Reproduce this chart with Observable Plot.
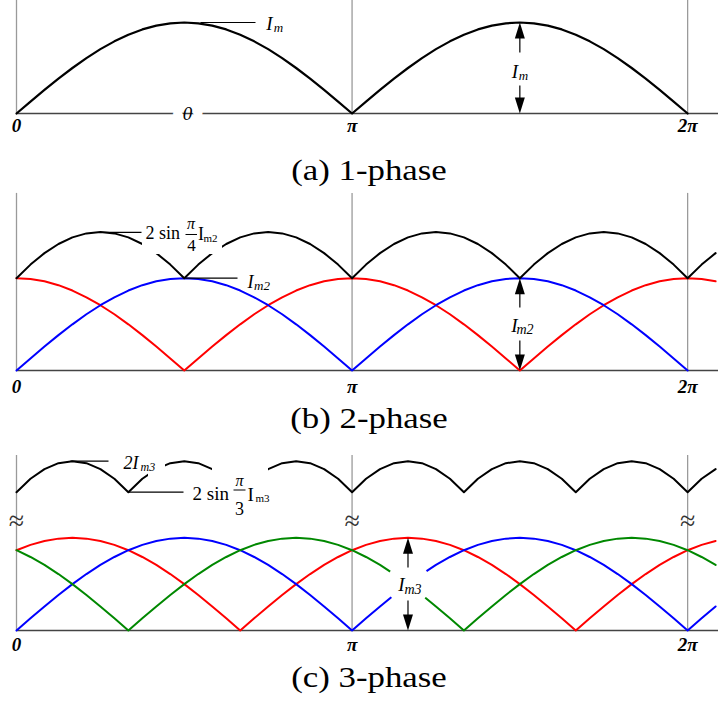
<!DOCTYPE html>
<html><head><meta charset="utf-8">
<script src="https://cdn.jsdelivr.net/npm/d3@7"></script>
<script src="https://cdn.jsdelivr.net/npm/@observablehq/plot@0.6"></script>
<style>
body{margin:0;background:#fff;}
#root{position:relative;width:728px;height:709px;overflow:hidden;font-family:"Liberation Serif","Times New Roman",Times,serif;}
.panel{position:absolute;left:0;}
.cap{position:absolute;left:0;width:728px;padding-left:10px;box-sizing:border-box;text-align:center;font-size:30px;line-height:30px;color:#000;white-space:nowrap;font-family:"Liberation Serif","Times New Roman",Times,serif;transform:scaleX(1.16);transform-origin:369px 50%;}
</style></head><body><div id="root"></div>
<script>
// ---------- data (x in units of π, y in units of the phase peak current) ----------
const ticksPi = [0, 1, 2];
const tickLabels = ["0", "π", "2π"];
const stepPi = 1 / 24;                 // sampling step
// one rectified half-period |sin|, sampled every π/24
const halfSine = [0, 0.131, 0.259, 0.383, 0.5, 0.609, 0.707, 0.793, 0.866, 0.924, 0.966, 0.991,
                  1, 0.991, 0.966, 0.924, 0.866, 0.793, 0.707, 0.609, 0.5, 0.383, 0.259, 0.131];
// 2-phase envelope (one period π/2), in Im2
const env2 = [1, 1.147, 1.271, 1.37, 1.442, 1.485, 1.5, 1.485, 1.442, 1.37, 1.271, 1.147];
// 3-phase line envelope (one period π/3), in Im3 (2 sin(π/3) .. 2)
const env3 = [1.732, 1.848, 1.932, 1.983, 2, 1.983, 1.932, 1.848];
// phase offsets (in samples)
const phases2 = {red: 12, blue: 0};
const phases3 = {red: 8, blue: 0, green: 16};
const captions = ["(a) 1-phase", "(b) 2-phase", "(c) 3-phase"];

const xMax = 2.092;
const FONT = "'Liberation Serif', 'Times New Roman', Times, serif";
const wave = (profile, offset, n) =>
  d3.range(n + 1).map(i => ({x: i * stepPi, y: profile[(i + offset) % profile.length]}));

const upTri = {draw(c){ c.moveTo(0,0); c.lineTo(-5,16); c.lineTo(5,16); c.closePath(); }};
const downTri = {draw(c){ c.moveTo(0,0); c.lineTo(-5,-16); c.lineTo(5,-16); c.closePath(); }};

function helpers(base, unit){
  const X = px => (px - 16) / 335.56;
  const Y = py => (base - py) / unit;
  return {
    X, Y,
    txt: (px, py, s, o = {}) => Plot.text([s], {x: X(px), y: Y(py), text: d => d, fontFamily: FONT, fill: "#000", ...o}),
    seg: (px1, py1, px2, py2, w = 1.2) => Plot.link([0], {x1: X(px1), y1: Y(py1), x2: X(px2), y2: Y(py2), stroke: "#000", strokeWidth: w}),
    box: (px1, py1, px2, py2) => Plot.rect([0], {x1: X(px1), x2: X(px2), y1: Y(py1), y2: Y(py2), fill: "white"}),
    up: (x, py) => Plot.dot([0], {x, y: Y(py), symbol: upTri, fill: "#000", stroke: "none", r: 5}),
    down: (x, py) => Plot.dot([0], {x, y: Y(py), symbol: downTri, fill: "#000", stroke: "none", r: 5}),
    vline: (x, py1, py2) => Plot.link([0], {x1: x, x2: x, y1: Y(py1), y2: Y(py2), stroke: "#000", strokeWidth: 1.2})
  };
}

function common(ruleTop, tickDy){
  return [
    Plot.ruleX(ticksPi, {x: d => d, y1: 0, y2: ruleTop, stroke: "#9a9a9a", strokeWidth: 1.3}),
    Plot.ruleY([0], {x1: 0, x2: xMax, stroke: "#444", strokeWidth: 1.6}),
    Plot.text(ticksPi, {x: d => d, y: 0, text: (d, i) => tickLabels[i], dy: tickDy, fontFamily: FONT,
      fontWeight: "bold", fontStyle: "italic", fontSize: 19, fill: "#000"})
  ];
}

function mount(svg, top){
  svg.classList.add("panel");
  svg.style.top = top + "px";
  document.getElementById("root").appendChild(svg);
}
function caption(text, top){
  const d = document.createElement("div");
  d.className = "cap"; d.style.top = top + "px"; d.textContent = text;
  document.getElementById("root").appendChild(d);
}
const base = {width: 728, marginLeft: 16, marginRight: 10,
  x: {domain: [0, xMax], axis: null},
  style: {background: "transparent", overflow: "visible", fontFamily: FONT}};

// ---------- (a) 1-phase ----------
{
  const h = helpers(113, 91);
  const svg = Plot.plot({...base, height: 150, marginTop: 22, marginBottom: 37,
    y: {domain: [0, 1], axis: null},
    marks: [
      ...common(1.242, 12),
      Plot.line(wave(halfSine, 0, 48), {x: "x", y: "y", stroke: "#000", strokeWidth: 2.2}),
      Plot.text(["0"], {x: h.X(187), y: 0, text: d => d, fontFamily: FONT, fontStyle: "italic", fontSize: 19,
        fill: "#000", stroke: "white", strokeWidth: 21, paintOrder: "stroke"}),
      h.seg(200, 22, 255, 22),
      h.txt(269, 23.5, "I", {fontStyle: "italic", fontSize: 19}),
      h.txt(278, 27.5, "m", {fontStyle: "italic", fontSize: 13}),
      h.vline(1.5, 30, 52), h.up(1.5, 22),
      h.txt(514.5, 71, "I", {fontStyle: "italic", fontSize: 19}),
      h.txt(523, 75, "m", {fontStyle: "italic", fontSize: 13}),
      h.vline(1.5, 85, 105), h.down(1.5, 113)
    ]});
  mount(svg, 0);
  caption(captions[0], 155);
}

// ---------- (b) 2-phase ----------
{
  const h = helpers(370, 92.33);
  const svg = Plot.plot({...base, height: 215, marginTop: 41.5, marginBottom: 35,
    y: {domain: [0, 1.5], axis: null},
    marks: [
      ...common(1.918, 16),
      Plot.line(wave(halfSine, phases2.red, 50), {x: "x", y: "y", stroke: "#f00", strokeWidth: 2}),
      Plot.line(wave(halfSine, phases2.blue, 48), {x: "x", y: "y", stroke: "#00f", strokeWidth: 2}),
      Plot.line(wave(env2, 0, 50), {x: "x", y: "y", stroke: "#000", strokeWidth: 2}),
      h.box(142, 212, 222, 254),
      h.seg(100, 231.8, 141, 231.8),
      h.txt(145, 233, "2 sin", {textAnchor: "start", fontSize: 18}),
      h.txt(190.5, 223, "π", {fontStyle: "italic", fontSize: 16}),
      h.seg(185, 234, 196.5, 234, 1),
      h.txt(191, 245, "4", {fontSize: 17}),
      h.txt(197.5, 234, "I", {textAnchor: "start", fontSize: 18}),
      h.txt(203, 237.5, "m2", {textAnchor: "start", fontSize: 11}),
      h.seg(185, 277.7, 237, 277.7),
      h.txt(250, 282, "I", {fontStyle: "italic", fontSize: 18, stroke: "white", strokeWidth: 6, paintOrder: "stroke"}),
      h.txt(261.5, 285, "m2", {fontStyle: "italic", fontSize: 13}),
      h.vline(1.5, 285, 307), h.up(1.5, 277.7),
      h.txt(514, 325, "I", {fontStyle: "italic", fontSize: 19}),
      h.txt(524.5, 329, "m2", {fontStyle: "italic", fontSize: 14}),
      h.vline(1.5, 340, 360), h.down(1.5, 370)
    ]});
  mount(svg, 190);
  caption(captions[1], 403);
}

// ---------- (c) 3-phase ----------
{
  const h = helpers(630, 92.7);
  // broken axis: the line envelope is shown compressed above the break
  const brk = v => 1.492 + (v - 1.732) / 0.268 * 0.334;
  const top3 = wave(env3, 0, 50).map(d => ({x: d.x, y: brk(d.y)}));
  const svg = Plot.plot({...base, height: 215, marginTop: 4.6, marginBottom: 25,
    y: {domain: [0, 2], axis: null},
    marks: [
      ...common(1.888, 14),
      Plot.text(ticksPi, {x: d => d, y: h.Y(521), text: () => "≈", fontFamily: FONT, fontSize: 28, fill: "#333"}),
      Plot.line(wave(halfSine, phases3.red, 50), {x: "x", y: "y", stroke: "#f00", strokeWidth: 2}),
      Plot.line(wave(halfSine, phases3.blue, 50), {x: "x", y: "y", stroke: "#00f", strokeWidth: 2}),
      Plot.line(wave(halfSine, phases3.green, 50), {x: "x", y: "y", stroke: "#080", strokeWidth: 2}),
      Plot.line(top3, {x: "x", y: "y", stroke: "#000", strokeWidth: 2}),
      h.box(148, 452, 165, 480),
      h.box(212, 464, 268, 500),
      h.seg(70, 460.7, 108, 460.7),
      h.txt(123, 463, "2I", {textAnchor: "start", fontStyle: "italic", fontSize: 18}),
      h.txt(140, 466.5, "m3", {textAnchor: "start", fontStyle: "italic", fontSize: 12}),
      h.seg(128, 491.7, 183, 491.7),
      h.txt(192, 493, "2 sin", {textAnchor: "start", fontSize: 19}),
      h.txt(239, 480.5, "π", {fontStyle: "italic", fontSize: 16}),
      h.seg(233, 489.5, 245, 489.5, 1),
      h.txt(239, 509, "3", {fontSize: 18}),
      h.txt(247, 494, "I", {textAnchor: "start", fontSize: 19}),
      h.txt(255, 498, "m3", {textAnchor: "start", fontSize: 11}),
      Plot.dot([0], {x: h.X(408), y: h.Y(583), r: 22, fill: "white", stroke: "none"}),
      h.vline(7 / 6, 545, 567), h.up(7 / 6, 537.3),
      h.txt(401, 584, "I", {fontStyle: "italic", fontSize: 19}),
      h.txt(412.5, 589, "m3", {fontStyle: "italic", fontSize: 14}),
      h.vline(7 / 6, 600, 620), h.down(7 / 6, 630)
    ]});
  mount(svg, 440);
  caption(captions[2], 662);
}
</script></body></html>
